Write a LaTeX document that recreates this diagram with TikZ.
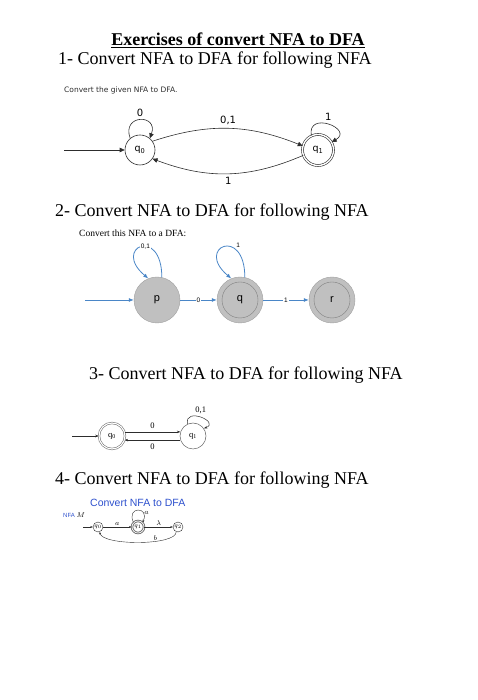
\documentclass[tikz,border=0pt]{standalone}
\usepackage{fontspec}
\setmainfont{Liberation Serif}
\newfontfamily\verdana{DejaVu Sans}
\newfontfamily\arial{Liberation Sans}
\usepackage{tikz}
\usetikzlibrary{arrows.meta,positioning}
\definecolor{nfablue}{RGB}{74,134,199}
\definecolor{nfagray}{RGB}{192,192,192}
\definecolor{nfaedge}{RGB}{160,160,160}
\definecolor{nfaink}{RGB}{45,45,45}
\definecolor{titleblue}{RGB}{45,80,205}

\begin{document}
\begin{tikzpicture}[x=1pt,y=1pt,
      head/.style={anchor=west,inner sep=0pt,font=\fontsize{18}{20}\selectfont},
      st1/.style={circle,draw=nfaink,line width=0.6pt,minimum size=30pt,inner sep=0pt,font=\verdana\fontsize{9.5}{10}\selectfont},
      acc1/.style={st1,double,double distance=1.4pt,minimum size=31pt},
      e1/.style={-{Triangle[length=5pt,width=4.5pt]},draw=nfaink,line width=0.6pt},
      lb1/.style={font=\verdana\fontsize{10}{11}\selectfont},
      st2/.style={circle,fill=nfagray,draw=nfaedge,line width=0.4pt,minimum size=46pt,inner sep=0pt,font=\arial\fontsize{11}{12}\selectfont},
      e2/.style={-{Latex[length=5pt,width=4pt]},draw=nfablue,line width=0.8pt},
      lb2/.style={font=\arial\fontsize{6.5}{7}\selectfont,fill=white,inner sep=1pt},
      st3/.style={circle,draw=nfaink!75,line width=0.5pt,minimum size=26pt,inner sep=0pt,font=\fontsize{8.5}{9}\selectfont},
      acc3/.style={st3,double,double distance=1.2pt,minimum size=26pt},
      e3/.style={-{Stealth[length=3.5pt,width=2.5pt]},draw=nfaink,line width=0.5pt},
      lb3/.style={font=\fontsize{8.5}{9}\selectfont},
      st4/.style={circle,draw=nfaink,line width=0.4pt,minimum size=10pt,inner sep=0pt,font=\fontsize{6}{6}\selectfont},
      acc4/.style={st4,draw=nfaink!70,line width=0.9pt,double,double distance=0.7pt,minimum size=12pt},
      e4/.style={-{Stealth[length=2.5pt,width=2pt]},draw=nfaink,line width=0.4pt},
      lb4/.style={font=\fontsize{7}{8}\selectfont,inner sep=1pt}
    ]
      \useasboundingbox (0,0) rectangle (477,700);

      \node[inner sep=0pt,font=\fontsize{18}{20}\selectfont\bfseries] (title) at (238,660) {\underline{Exercises of convert NFA to DFA}};
      \node[head] (ex1) at (58,640) {1- Convert NFA to DFA for following NFA};
      \node[anchor=west,inner sep=0pt,font=\verdana\fontsize{7.5}{8}\selectfont,text=nfaink] (cap1) at (64,610) {Convert the given NFA to DFA.};

      \node[st1] (a0) at (140,550) {q\textsubscript{0}};
      \node[acc1] (a1) at (318,550) {q\textsubscript{1}};
      \coordinate (a) at (64,550);
      \draw[e1] (a) -- (a0);
      \draw[e1] (a0.130) .. controls +(110:26) and +(70:26) .. (a0.50) node[lb1,pos=0.5,above] {0};
      \draw[e1] (a1.115) .. controls +(100:26) and +(30:26) .. (a1.30) node[lb1,pos=0.5,above] {1};
      \draw[e1] (a0.35) to[bend left=20] node[lb1,above] {0,1} (a1.165);
      \draw[e1] (a1.200) to[bend left=22] node[lb1,below] {1} (a0.-35);

      \node[head] (ex2) at (55,488) {2- Convert NFA to DFA for following NFA};
      \node[anchor=west,inner sep=0pt,font=\fontsize{9.5}{10}\selectfont] (cap2) at (79,467) {Convert this NFA to a DFA:};

      \node[st2] (p) at (157,400) {p};
      \node[st2] (q) at (240,400) {q};
      \node[st2] (r) at (332,400) {r};
      \draw[draw=nfaedge!80!black,line width=0.4pt] (q) circle[radius=18pt];
      \draw[draw=nfaedge!80!black,line width=0.4pt] (r) circle[radius=18pt];
      \coordinate (b) at (85,400);
      \draw[e2] (b) -- (p);
      \draw[e2] (p) -- node[lb2] {0} (q);
      \draw[e2] (q) -- node[lb2] {1} (r);
      \draw[e2] (p.78) .. controls +(90:52) and +(140:48) .. (p.112) node[lb2,pos=0.42] {0,1};
      \draw[e2] (q.78) .. controls +(90:52) and +(140:48) .. (q.112) node[lb2,fill=none,pos=0.3,above right] {1};

      \node[head] (ex3) at (89,325) {3- Convert NFA to DFA for following NFA};

      \node[acc3] (c0) at (112,264) {q\textsubscript{0}};
      \node[st3] (c1) at (193,264) {q\textsubscript{1}};
      \coordinate (c) at (72,264);
      \draw[e3] (c) -- (c0);
      \draw[e3] (c0.18) -- node[lb3,above] {0} (c1.162);
      \draw[e3] (c1.198) -- node[lb3,below] {0} (c0.-18);
      \draw[e3] (c1.115) .. controls +(100:18) and +(20:18) .. (c1.35) node[lb3,pos=0.5,above] {0,1};

      \node[head] (ex4) at (55,220) {4- Convert NFA to DFA for following NFA};
      \node[anchor=west,inner sep=0pt,font=\arial\fontsize{10.5}{11}\selectfont,text=titleblue] (cap4) at (90,197) {Convert NFA to DFA};
      \node[anchor=west,inner sep=0pt,font=\fontsize{7.5}{8}\selectfont] (nfam) at (63,185) {{\arial\fontsize{6}{6}\selectfont\color{titleblue}NFA} $M$};

      \node[st4] (d0) at (98,173) {$q_0$};
      \node[acc4] (d1) at (138,173) {$q_1$};
      \node[st4] (d2) at (178,173) {$q_2$};
      \coordinate (d) at (83,173);
      \draw[e4] (d) -- (d0);
      \draw[e4] (d0) -- node[lb4,above] {$a$} (d1);
      \draw[e4] (d1) -- node[lb4,above] {$\lambda$} (d2);
      \draw[e4] (d1.135) .. controls +(115:18) and +(65:18) .. (d1.45) node[lb4,pos=0.75,right] {$a$};
      \draw[e4] (d2.-110) .. controls +(-90:14) and +(-80:14) .. (d0.-70) node[lb4,pos=0.35,above] {$b$};
    \end{tikzpicture}
\end{document}
